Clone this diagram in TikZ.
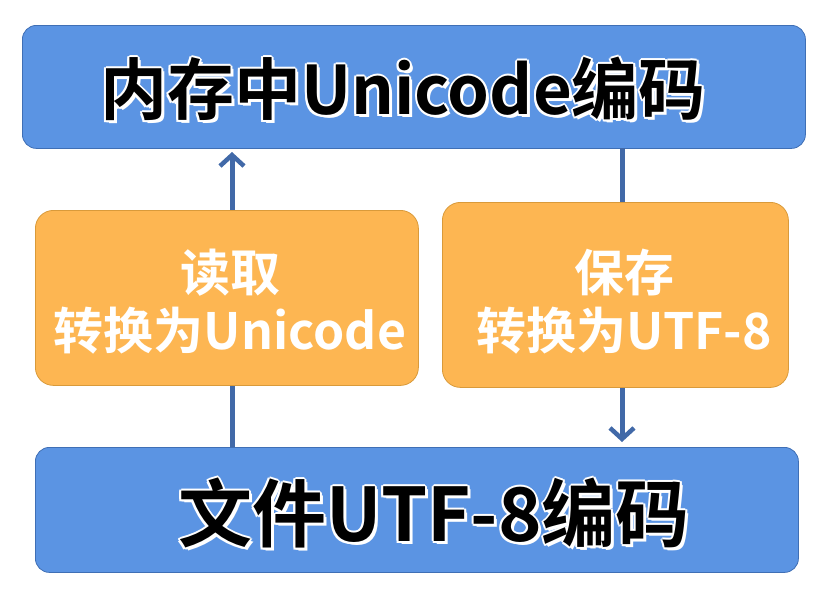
\documentclass[tikz,border=0pt]{standalone}
\usepackage{fontspec}
\newfontfamily\cjk{Noto Sans CJK SC Bold}
\usetikzlibrary{arrows.meta,calc}
\definecolor{bluebox}{HTML}{5B94E3}
\definecolor{blueedge}{HTML}{3F6FB5}
\definecolor{orangebox}{HTML}{FDB652}
\definecolor{orangeedge}{HTML}{D99A3A}
\definecolor{arrowc}{HTML}{4169A8}
\tikzset{
  bluebox/.style={draw=blueedge, line width=0.8pt, fill=bluebox, rounded corners=14pt, anchor=north west, inner sep=0pt},
  orangebox/.style={draw=orangeedge, line width=0.8pt, fill=orangebox, rounded corners=18pt, anchor=north west, inner sep=0pt},
  conn/.style={draw=arrowc, line width=5pt, -{Straight Barb[length=11pt,width=24pt,line width=4.5pt]}},
}
\newcommand{\halo}[3]{%
  \foreach \dx/\dy in {2/0,-2/0,0/2,0/-2,1.5/1.5,-1.5/1.5,1.5/-1.5,-1.5/-1.5,3/3}{
    \node[text=white,font=\cjk\fontsize{#3}{#3}\selectfont] at ($(#1)+(\dx pt,-\dy pt)$) {#2};}
  \node[text=black,font=\cjk\fontsize{#3}{#3}\selectfont] at (#1) {#2};}
\begin{document}
\begin{tikzpicture}[x=1pt,y=-1pt]
\useasboundingbox (0,0) rectangle (834,592);
\node[bluebox, minimum width=783pt, minimum height=123pt] (top) at (22,25) {};
\node[bluebox, minimum width=763pt, minimum height=125pt] (bot) at (35,447) {};
\coordinate (la) at (232,447);
\coordinate (lb) at (232,152);
\coordinate (ra) at (622,148);
\coordinate (rb) at (622,442);
\draw[conn] (la) -- (lb);
\draw[conn] (ra) -- (rb);
\node[orangebox, minimum width=383pt, minimum height=175pt] (left) at (35,210) {};
\node[orangebox, minimum width=346pt, minimum height=185pt] (right) at (442,202) {};
\halo{403,89}{内存中Unicode编码}{67}
\halo{434,513}{文件UTF-8编码}{74}
\node[text=white,font=\cjk\fontsize{50}{58}\selectfont,align=center] (lt) at (230,302) {读取\\转换为Unicode};
\node[text=white,font=\cjk\fontsize{50}{58}\selectfont,align=center] (rt) at (624,302) {保存\\转换为UTF-8};
\end{tikzpicture}
\end{document}
